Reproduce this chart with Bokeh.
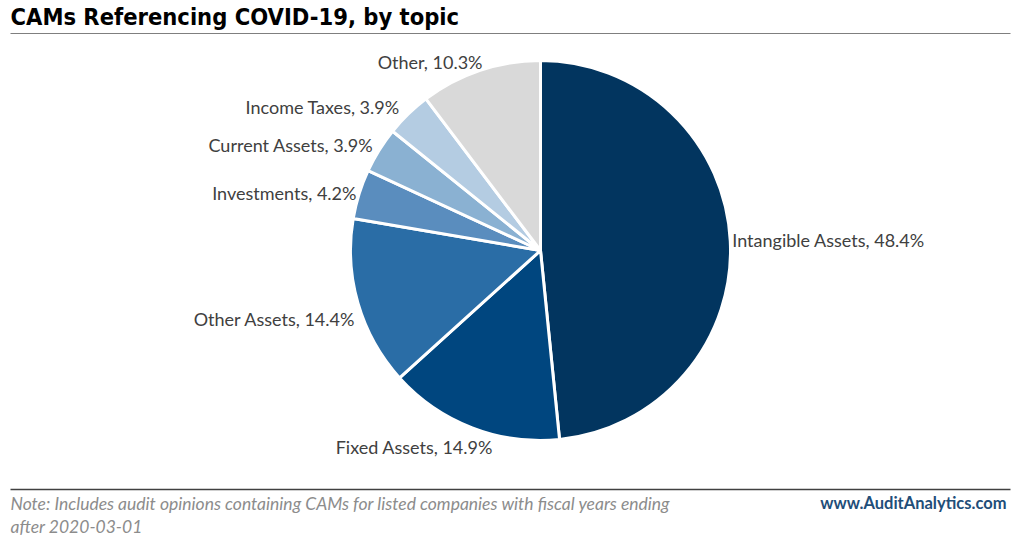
import math
from bokeh.plotting import figure
from bokeh.models import Range1d, ColumnDataSource
from bokeh.core.properties import value
from bokeh.embed import file_html
from bokeh.resources import INLINE

categories = ["Intangible Assets", "Fixed Assets", "Other Assets", "Investments",
              "Current Assets", "Income Taxes", "Other"]
shares = [48.4, 14.9, 14.4, 4.2, 3.9, 3.9, 10.3]
colors = ["#02355f", "#00467f", "#2a6da6", "#5a8dbe", "#8ab1d2", "#b4cce2", "#d9d9d9"]

# label placement styling (nudges, alignment)
label_align = ["left", "center", "right", "right", "right", "right", "right"]
label_dx = [-6, -55, 5, 5, 1, -3, 5]
label_dy = [-1, 12, 13, 1, -1, -1, -1]

W, H = 1023, 537
cx, cy, R = 540, 537 - 250, 190

p = figure(width=W, height=H, x_range=Range1d(0, W), y_range=Range1d(0, H),
           output_backend="svg", toolbar_location=None, min_border=0,
           outline_line_color=None)
p.axis.visible = False
p.grid.visible = False

total = sum(shares)
starts, ends, lx, ly, texts = [], [], [], [], []
acc = 0.0
for i, s in enumerate(shares):
    a0 = acc / total
    acc += s
    a1 = acc / total
    starts.append(math.pi / 2 - a0 * 2 * math.pi)
    ends.append(math.pi / 2 - a1 * 2 * math.pi)
    mid = (a0 + a1) / 2 * 2 * math.pi
    rr = R + 8
    sx = cx + rr * math.sin(mid) + label_dx[i]
    sy_screen = (H - cy) - rr * math.cos(mid) + label_dy[i]
    lx.append(sx)
    ly.append(H - sy_screen)
    texts.append(f"{categories[i]}, {s}%")

src = ColumnDataSource(dict(start=starts, end=ends, color=colors))
p.wedge(x=cx, y=cy, radius=R, start_angle="start", end_angle="end",
        direction="clock", fill_color="color", line_color="white", line_width=3,
        source=src)

for i in range(len(texts)):
    p.text(x=[lx[i]], y=[ly[i]], text=[texts[i]], text_align=label_align[i],
           text_baseline="middle", text_font=value("Lato"),
           text_font_size="18px", text_color="#404040")

# title
p.text(x=[10], y=[H - 16], text=["CAMs Referencing COVID-19, by topic"],
       text_align="left", text_baseline="middle",
       text_font=value("'DejaVu Sans Condensed', 'Roboto'"), text_font_style="bold",
       text_font_size="23.5px", text_color="#000000")
p.segment(x0=[10], y0=[H - 33], x1=[1010], y1=[H - 33], line_color="#7f7f7f", line_width=1)

# footer
p.segment(x0=[10], y0=[H - 489], x1=[1010], y1=[H - 489], line_color="#404040", line_width=1.3)
p.text(x=[10, 10], y=[H - 503, H - 526],
       text=["Note: Includes audit opinions containing CAMs for listed companies with fiscal years ending",
             "after 2020-03-01"],
       text_align="left", text_baseline="middle", text_font=value("Lato"),
       text_font_style="italic", text_font_size="17.5px", text_color="#8c8c8c")
p.text(x=[1006], y=[H - 502], text=["www.AuditAnalytics.com"], text_align="right",
       text_baseline="middle", text_font=value("Lato"), text_font_style="bold",
       text_font_size="16.5px", text_color="#1f4e79")

open("out.html", "w").write(file_html(p, INLINE))
